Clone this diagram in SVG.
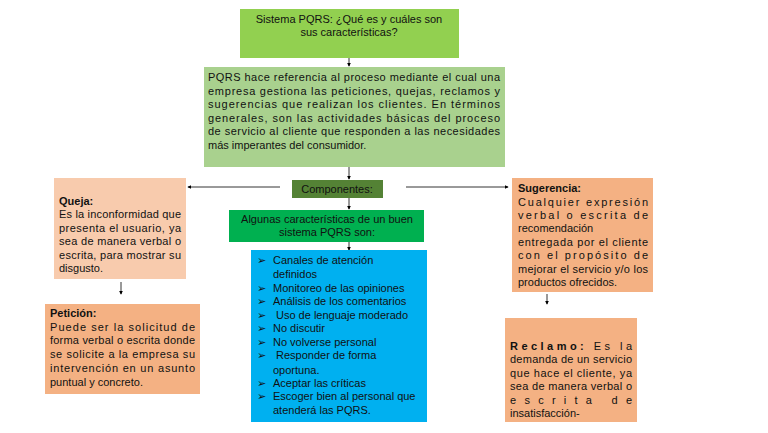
<svg xmlns="http://www.w3.org/2000/svg" width="768" height="433" viewBox="0 0 768 433">
<defs>
<marker id="ar" viewBox="0 0 6 6" refX="5" refY="3" markerWidth="5" markerHeight="5" orient="auto"><path d="M0,0L6,3L0,6z" fill="#000"/></marker>
<style>
text{font-family:"Liberation Sans",Arial,sans-serif;font-size:11px;fill:#111}
.b{font-weight:bold}
.c{stroke:#000;stroke-width:0.8;fill:none;marker-end:url(#ar)}
</style>
</defs>
<rect width="768" height="433" fill="#fff"/>
<g id="connectors">
<line class="c" x1="349" y1="58" x2="349" y2="66"/>
<line class="c" x1="349" y1="167" x2="349" y2="179"/>
<line class="c" x1="349" y1="198" x2="349" y2="209"/>
<line class="c" x1="349" y1="242" x2="349" y2="250"/>
<line class="c" x1="280" y1="187" x2="188" y2="187"/>
<line class="c" x1="406" y1="187" x2="508" y2="187"/>
<line class="c" x1="121" y1="282" x2="121" y2="294"/>
<line class="c" x1="547" y1="294" x2="547" y2="304"/>
</g>
<g id="title">
<rect x="240" y="9" width="219" height="49" fill="#92d050"/>
<text x="349" y="23" text-anchor="middle">Sistema PQRS: ¿Qué es y cuáles son</text>
<text x="349" y="36" text-anchor="middle">sus características?</text>
</g>
<g id="desc">
<rect x="204" y="67" width="301" height="100" fill="#a9d18e"/>
<text x="208" y="81" textLength="292" lengthAdjust="spacing">PQRS hace referencia al proceso mediante el cual una</text>
<text x="208" y="95" textLength="292" lengthAdjust="spacing">empresa gestiona las peticiones, quejas, reclamos y</text>
<text x="208" y="108" textLength="292" lengthAdjust="spacing">sugerencias que realizan los clientes. En términos</text>
<text x="208" y="122" textLength="292" lengthAdjust="spacing">generales, son las actividades básicas del proceso</text>
<text x="208" y="135" textLength="292" lengthAdjust="spacing">de servicio al cliente que responden a las necesidades</text>
<text x="208" y="149">más imperantes del consumidor.</text>
</g>
<g id="componentes">
<rect x="292" y="180" width="91" height="18" fill="#548235"/>
<text x="337" y="193" text-anchor="middle">Componentes:</text>
</g>
<g id="algunas">
<rect x="229" y="210" width="195" height="32" fill="#00b050"/>
<text x="327" y="223" text-anchor="middle">Algunas características de un buen</text>
<text x="327" y="236" text-anchor="middle">sistema PQRS son:</text>
</g>
<g id="lista">
<rect x="251" y="250" width="176" height="172" fill="#00b0f0"/>
<g font-size="10">
<text x="257" y="264">➢</text><text x="273" y="264">Canales de atención</text>
<text x="273" y="278">definidos</text>
<text x="257" y="292">➢</text><text x="273" y="292">Monitoreo de las opiniones</text>
<text x="257" y="305">➢</text><text x="273" y="305">Análisis de los comentarios</text>
<text x="257" y="319">➢</text><text x="276" y="319">Uso de lenguaje moderado</text>
<text x="257" y="332">➢</text><text x="273" y="332">No discutir</text>
<text x="257" y="346">➢</text><text x="273" y="346">No volverse personal</text>
<text x="257" y="359">➢</text><text x="276" y="359">Responder de forma</text>
<text x="273" y="374">oportuna.</text>
<text x="257" y="387">➢</text><text x="273" y="387">Aceptar las críticas</text>
<text x="257" y="400">➢</text><text x="273" y="400">Escoger bien al personal que</text>
<text x="273" y="414">atenderá las PQRS.</text>
</g>
</g>
<g id="queja">
<rect x="54" y="178" width="132" height="101" fill="#f8cbad"/>
<text x="59" y="205" class="b">Queja:</text>
<text x="59" y="218" textLength="122" lengthAdjust="spacing">Es la inconformidad que</text>
<text x="59" y="232" textLength="122" lengthAdjust="spacing">presenta el usuario, ya</text>
<text x="59" y="245" textLength="122" lengthAdjust="spacing">sea de manera verbal o</text>
<text x="59" y="259" textLength="122" lengthAdjust="spacing">escrita, para mostrar su</text>
<text x="59" y="272">disgusto.</text>
</g>
<g id="peticion">
<rect x="45" y="304" width="155" height="90" fill="#f4b183"/>
<text x="50" y="317" class="b">Petición:</text>
<text x="50" y="331" textLength="145" lengthAdjust="spacing">Puede ser la solicitud de</text>
<text x="50" y="344" textLength="145" lengthAdjust="spacing">forma verbal o escrita donde</text>
<text x="50" y="358" textLength="145" lengthAdjust="spacing">se solicite a la empresa su</text>
<text x="50" y="372" textLength="145" lengthAdjust="spacing">intervención en un asunto</text>
<text x="50" y="386">puntual y concreto.</text>
</g>
<g id="sugerencia">
<rect x="512" y="178" width="141" height="114" fill="#f4b183"/>
<text x="518" y="192" class="b">Sugerencia:</text>
<text x="518" y="206" textLength="130" lengthAdjust="spacing">Cualquier expresión</text>
<text x="518" y="219" textLength="130" lengthAdjust="spacing">verbal o escrita de</text>
<text x="518" y="232">recomendación</text>
<text x="518" y="246" textLength="130" lengthAdjust="spacing">entregada por el cliente</text>
<text x="518" y="259" textLength="130" lengthAdjust="spacing">con el propósito de</text>
<text x="518" y="273" textLength="130" lengthAdjust="spacing">mejorar el servicio y/o los</text>
<text x="518" y="286">productos ofrecidos.</text>
</g>
<g id="reclamo">
<rect x="505" y="318" width="132" height="104" fill="#f4b183"/>
<text x="510" y="350" textLength="122" lengthAdjust="spacing"><tspan class="b">Reclamo:</tspan> Es la</text>
<text x="510" y="363" textLength="122" lengthAdjust="spacing">demanda de un servicio</text>
<text x="510" y="377" textLength="122" lengthAdjust="spacing">que hace el cliente, ya</text>
<text x="510" y="390" textLength="122" lengthAdjust="spacing">sea de manera verbal o</text>
<text x="510" y="404" textLength="122" lengthAdjust="spacing">escrita de</text>
<text x="510" y="417">insatisfacción-</text>
</g>
</svg>
